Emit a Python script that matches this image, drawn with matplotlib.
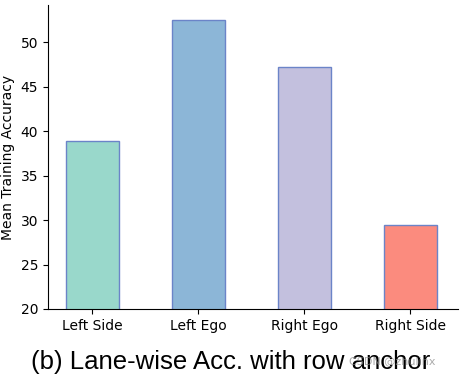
import matplotlib
matplotlib.use("Agg")
import matplotlib.pyplot as plt
import numpy as np

labels = ["Left Side", "Left Ego", "Right Ego", "Right Side"]
values = [38.9, 52.5, 47.2, 29.4]
colors = ["#99d8cb", "#8cb6d7", "#c3c0de", "#fb8b7e"]

fig = plt.figure(figsize=(4.64, 3.78), dpi=100)
ax = fig.add_axes([48/464, 1-309/378, 410/464, 304/378])
x = np.arange(len(labels))
ax.bar(x, values, width=0.5, color=colors, edgecolor="#6b84c8", linewidth=1)
ax.set_xticks(x)
ax.set_xticklabels(labels, fontsize=10)
ax.set_ylim(20, 54.2)
ax.set_xlim(-0.415, 3.45)
ax.set_yticks([20, 25, 30, 35, 40, 45, 50])
ax.tick_params(axis="y", labelsize=10)
ax.set_ylabel("Mean Training Accuracy", fontsize=10)
ax.spines["top"].set_visible(False)
ax.spines["right"].set_visible(False)

fig.text(0.498, 0.042, "(b) Lane-wise Acc. with row anchor", ha="center", va="center",
         fontsize=18.5, family="Liberation Sans")
fig.text(0.752, 0.045, "CSDN @zhulinx", ha="left", va="center", fontsize=8,
         color="#888888", alpha=0.7)
fig.savefig("out.png", dpi=100)
